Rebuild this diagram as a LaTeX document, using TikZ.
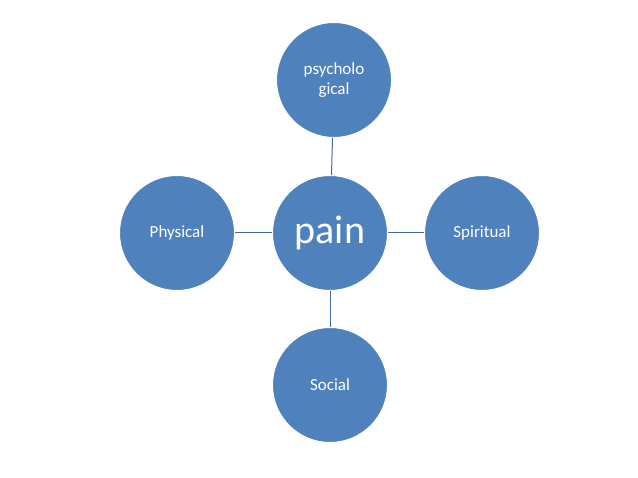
\documentclass[tikz,border=0pt]{standalone}
\usepackage{fontspec}
\setmainfont{Carlito}
\definecolor{fillb}{HTML}{4F81BD}
\definecolor{lineb}{HTML}{3E6AA0}
\begin{document}
\begin{tikzpicture}[x=1pt,y=-1pt,
  c/.style={circle,fill=fillb,draw=white,line width=1pt,minimum size=115pt,inner sep=0pt,text=white,font=\fontsize{17}{20}\selectfont,align=center},
  l/.style={draw=lineb,line width=1pt}]
\useasboundingbox (0,0) rectangle (638,478);
\node[c,font=\fontsize{40}{44}\selectfont] (pain) at (330,233) {pain};
\node[c] (psy) at (334,80) {psycholo\\gical};
\node[c] (phy) at (177,233) {Physical};
\node[c] (spi) at (482,233) {Spiritual};
\node[c] (soc) at (330,385) {Social};
\draw[l] (pain) -- (psy);
\draw[l] (pain) -- (phy);
\draw[l] (pain) -- (spi);
\draw[l] (pain) -- (soc);
\end{tikzpicture}
\end{document}
